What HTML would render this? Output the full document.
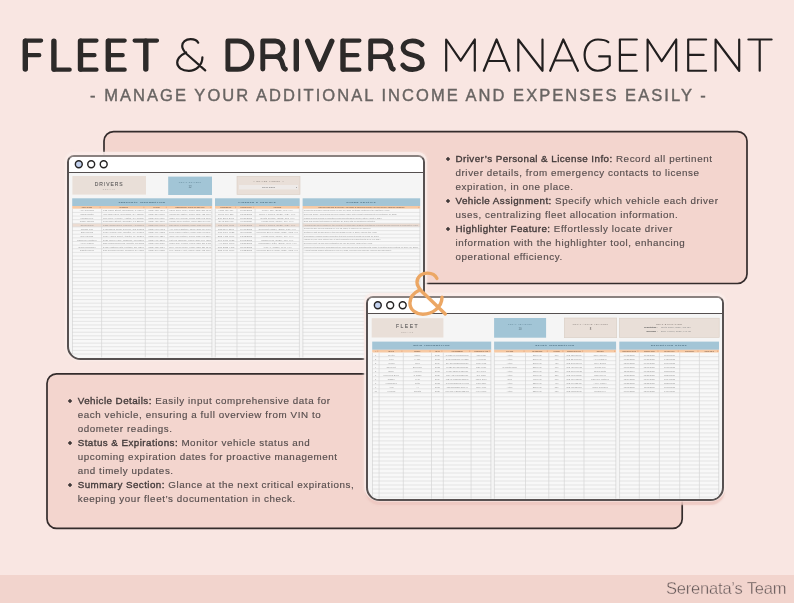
<!DOCTYPE html><html><head><meta charset="utf-8"><title>Fleet &amp; Drivers Management</title><style>
*{margin:0;padding:0;box-sizing:border-box}
html,body{width:794px;height:603px;overflow:hidden}
body{position:relative;background:#f9e6e2;font-family:"Liberation Sans",sans-serif}
div{position:absolute}
#root{left:0;top:0;width:794px;height:603px;will-change:transform}
span{display:block}
.ht{text-align:center;font-size:2.4px;letter-spacing:0.7px;color:#668899;font-weight:bold}
.box{background:#f3d5ce;border:2px solid #2a2424;border-radius:10.5px}
.win{background:#f5f5f5;border:2px solid #575151;border-top-color:#8a8280;border-radius:7px 7px 13.5px 13.5px;overflow:hidden;box-shadow:0 -1.2px 0 1.8px rgba(250,237,233,0.88),0 -1px 2px 2.8px rgba(250,237,233,0.4)}
.tb{position:absolute;left:0;top:0;right:0;height:16px;background:#fff;border-bottom:1.5px solid #555050}
.tb i{position:absolute;top:2.8px;width:8.8px;height:8.8px;border-radius:50%;border:1.6px solid #262424;background:#fff}
.tb .d1{background:#c0d0ee}
.title{position:absolute;top:28px;font-size:46px;line-height:52px;color:#2d2a29;white-space:nowrap}
.blist{position:absolute;font-size:9.8px;line-height:14.1px;color:#574e4e;white-space:nowrap;letter-spacing:0.58px;-webkit-text-stroke:0.15px #574e4e}
.blist b{color:#433b3b;font-weight:normal;-webkit-text-stroke:0.35px #433b3b;letter-spacing:0.45px}
.blist p{position:relative;padding-left:0}
.blist p.bl:before{content:"";position:absolute;left:-10.3px;top:4px;width:6px;height:6px;background:radial-gradient(circle at 50% 50%, #3f3838 0, #3f3838 1.4px, rgba(63,56,56,0) 2.1px)}
</style></head><body><div id="root"><svg role="img" aria-label="FLEET &amp; DRIVERS MANAGEMENT" style="position:absolute;left:0;top:0" width="794" height="90" viewBox="0 0 794 90"><path d="M25.3,41.2 V69.1 M53.9,41.2 V69.1 M80.5,41.2 V69.1 M108.3,41.2 V69.1 M145.8,41.2 V69.1
M296.3,41.2 V69.1 M343,41.2 V69.1
M307.7,41.2 L319.6,69.1 L331.8,41.2" fill="none" stroke="#2d2a29" stroke-width="5.4" stroke-linecap="round" stroke-linejoin="round"/><path d="M41.1,40.6 H25.3 M25.3,55.2 H39.3
M53.9,69.7 H69.7
M96.5,40.6 H80.5 M80.5,69.7 H96.5 M80.5,55.2 H94.5
M124.7,40.6 H108.3 M108.3,69.7 H124.7 M108.3,55.2 H122.7
M134.6,40.6 H157 
M359.4,40.6 H343 M343,69.7 H359.4 M343,55.2 H357.4" fill="none" stroke="#2d2a29" stroke-width="4.2" stroke-linecap="round" stroke-linejoin="round"/><path d="M227.9,41 H237.75 A14.1,14.1 0 0 1 237.75,69.3 H227.9 Z
M262.8,69.1 V41 H275.25 A7.8,7.8 0 0 1 275.25,56.6 H262.8 M276.3,56.6 C280.8,57.4 281.9,61.2 282.6,64.4 C283.2,67.3 284,68.8 285.4,69.2
M370.7,69.1 V41 H383.15 A7.8,7.8 0 0 1 383.15,56.6 H370.7 M384.2,56.6 C388.7,57.4 389.8,61.2 390.5,64.4 C391.1,67.3 391.9,68.8 393.3,69.2
M421.9,44.6 C419.6,41.8 416.2,40.9 412.3,40.9 C406.8,40.9 403.1,43.9 403.1,48.1 C403.1,52.6 407.2,54.1 412.6,55.2 C418.6,56.5 422.3,58.6 422.3,62.9 C422.3,67.1 418.1,69.5 412.4,69.5 C407.6,69.5 404.6,67.6 402.9,65.1" fill="none" stroke="#2d2a29" stroke-width="4.9" stroke-linecap="round" stroke-linejoin="round"/><path d="M446.2,70.75 V39.5 L460.7,60.7 L474.8,39.5 V70.75
M483.8,70.75 L496.6,39.5 L509.5,70.75 M487.8,61 H505.5
M518.3,70.75 V39.5 L542.5,70.75 V39.5
M550.2,70.75 L563.3,39.5 L577.9,70.75 M554.5,60.5 H573.1
M608.3,42.1 C605.5,40 602,39.5 598,39.5 C590,39.5 584.6,46.3 584.6,55.1 C584.6,64 590.5,70.75 597.6,70.75 C602.5,70.75 606.5,69 609.7,65.5 V56.4 H599.2
M636.8,39.5 H619.9 V70.75 H636.8 M619.9,54.9 H635.5
M647.6,70.75 V39.5 L661.7,61.1 L676.2,39.5 V70.75
M706.1,39.5 H688.2 V70.75 H706.1 M688.2,54.9 H703.6
M715.6,70.75 V39.5 L739.2,70.75 V39.5
M748.4,39.5 H771.6 M759.7,39.5 V70.75
M198.2,42.7 C197,40.4 194,39.2 190.6,39.2 C185.6,39.2 182.2,42.1 182.2,46 C182.2,49.2 184.2,51.4 186.6,54 L205.2,70.4
M186.1,52.4 C180.6,55.1 177.2,58.6 177.2,62.6 C177.2,67.6 182.2,70.8 188.8,70.8 C196,70.8 202.4,65.5 202.4,57.3" fill="none" stroke="#221f1f" stroke-width="2.2" stroke-linecap="round" stroke-linejoin="round"/></svg><div style="left:90px;top:84px;width:614px;font-size:16.5px;line-height:22px;color:#686462;font-weight:normal;-webkit-text-stroke:0.4px #686462;letter-spacing:2.05px;white-space:nowrap">- MANAGE YOUR ADDITIONAL INCOME AND EXPENSES EASILY -</div><svg style="position:absolute;left:0;top:0" width="794" height="603"><rect x="104" y="131.6" width="643" height="151.9" rx="9.5" fill="#f3d5ce" stroke="#342c2c" stroke-width="1.7"/></svg><div class="blist" style="left:455.5px;top:151.7px">
<p class="bl"><b>Driver&#8217;s Personal &amp; License Info:</b> Record all pertinent</p>
<p>driver details, from emergency contacts to license</p>
<p>expiration, in one place.</p>
<p class="bl"><b>Vehicle Assignment:</b> Specify which vehicle each driver</p>
<p>uses, centralizing fleet allocation information.</p>
<p class="bl"><b>Highlighter Feature:</b> Effortlessly locate driver</p>
<p>information with the highlighter tool, enhancing</p>
<p>operational efficiency.</p></div><svg style="position:absolute;left:0;top:0" width="794" height="603"><rect x="47" y="373.9" width="635.2" height="154.5" rx="9.5" fill="#f3d5ce" stroke="#342c2c" stroke-width="1.7"/></svg><div class="blist" style="left:77.7px;top:393.7px">
<p class="bl"><b>Vehicle Details:</b> Easily input comprehensive data for</p>
<p>each vehicle, ensuring a full overview from VIN to</p>
<p>odometer readings.</p>
<p class="bl"><b>Status &amp; Expirations:</b> Monitor vehicle status and</p>
<p>upcoming expiration dates for proactive management</p>
<p>and timely updates.</p>
<p class="bl"><b>Summary Section:</b> Glance at the next critical expirations,</p>
<p>keeping your fleet&#8217;s documentation in check.</p></div><div class="win" style="left:67.2px;top:155.0px;width:357.6px;height:204.8px;"><div class="tb"><svg width="60" height="16" style="position:absolute;left:0;top:0"><circle cx="9.8" cy="7.2" r="3.45" fill="#c3d2ef" stroke="#262424" stroke-width="1.45"/><circle cx="22.2" cy="7.2" r="3.45" fill="#fff" stroke="#262424" stroke-width="1.45"/><circle cx="34.7" cy="7.2" r="3.45" fill="#fff" stroke="#262424" stroke-width="1.45"/></svg></div></div><div style="left:0;top:0;width:794px;height:603px;clip-path:inset(174.50px 371.20px 245.20px 69.20px round 0 0 11.5px 11.5px)"><svg width="794" height="603" viewBox="0 0 794 603" font-family="Liberation Sans, sans-serif"><rect x="72.40" y="176.00" width="73.60" height="18.60" fill="#e9dfd8"/><text stroke="#5e5c5c" stroke-width="0.1" x="109.20" y="185.60" font-size="5" fill="#5e5c5c" text-anchor="middle" letter-spacing="0.95">DRIVERS</text><text x="109.20" y="190.30" font-size="2.1" fill="#aaa29d" text-anchor="middle" letter-spacing="0.6">DETAILS</text><rect x="168.20" y="176.60" width="43.80" height="18.40" fill="#a2c5d6"/><text x="190.10" y="183.20" font-size="2.1" fill="#5f8596" text-anchor="middle" letter-spacing="0.5">TOTAL DRIVERS</text><text x="190.10" y="188.40" font-size="2.8" fill="#55707d" text-anchor="middle">12</text><rect x="237.00" y="176.30" width="63.00" height="18.20" fill="#e9dfd8" stroke="#d9cdc4" stroke-width="0.6"/><text x="268.50" y="181.80" font-size="2.1" fill="#7d7570" text-anchor="middle" letter-spacing="0.6">→ DRIVER FINDER ←</text><rect x="239.00" y="185.00" width="59.00" height="4.40" fill="#eeeae8"/><text x="268.50" y="188.10" font-size="2.4" fill="#6a6a6a" text-anchor="middle">Taylor Davis</text><text x="296.50" y="188.10" font-size="2.4" fill="#6a6a6a" text-anchor="middle">▾</text><rect x="72.20" y="198.30" width="140.00" height="7.70" fill="#a3c5d6"/><text stroke="#56788a" stroke-width="0.12" x="142.20" y="202.65" font-size="2.5" fill="#56788a" text-anchor="middle" letter-spacing="0.75" font-weight="bold">PERSONAL INFORMATION</text><rect x="72.20" y="206.00" width="140.00" height="2.80" fill="#f7c9a3"/><text x="86.90" y="208.05" font-size="1.8" fill="#8a6a55" text-anchor="middle" font-weight="bold">FULL NAME</text><rect x="99.60" y="206.70" width="1.10" height="1.40" fill="#e8b08a"/><text x="123.45" y="208.05" font-size="1.8" fill="#8a6a55" text-anchor="middle" font-weight="bold">ADDRESS</text><rect x="143.30" y="206.70" width="1.10" height="1.40" fill="#e8b08a"/><text x="156.55" y="208.05" font-size="1.8" fill="#8a6a55" text-anchor="middle" font-weight="bold">PHONE</text><rect x="165.80" y="206.70" width="1.10" height="1.40" fill="#e8b08a"/><text x="190.00" y="208.05" font-size="1.8" fill="#8a6a55" text-anchor="middle" font-weight="bold">EMERGENCY CONTACT DETAILS</text><rect x="210.20" y="206.70" width="1.10" height="1.40" fill="#e8b08a"/><rect x="72.20" y="208.80" width="140.00" height="148.70" fill="#f8f8f8"/><rect x="72.20" y="223.32" width="140.00" height="3.63" fill="#ecdcd2"/><path d="M72.20,212.43H212.20M72.20,216.06H212.20M72.20,219.69H212.20M72.20,223.32H212.20M72.20,226.95H212.20M72.20,230.58H212.20M72.20,234.21H212.20M72.20,237.84H212.20M72.20,241.47H212.20M72.20,245.10H212.20M72.20,248.73H212.20M72.20,252.36H212.20M72.20,255.99H212.20M72.20,259.62H212.20M72.20,263.25H212.20M72.20,266.88H212.20M72.20,270.51H212.20M72.20,274.14H212.20M72.20,277.77H212.20M72.20,281.40H212.20M72.20,285.03H212.20M72.20,288.66H212.20M72.20,292.29H212.20M72.20,295.92H212.20M72.20,299.55H212.20M72.20,303.18H212.20M72.20,306.81H212.20M72.20,310.44H212.20M72.20,314.07H212.20M72.20,317.70H212.20M72.20,321.33H212.20M72.20,324.96H212.20M72.20,328.59H212.20M72.20,332.22H212.20M72.20,335.85H212.20M72.20,339.48H212.20M72.20,343.11H212.20M72.20,346.74H212.20M72.20,350.37H212.20M72.20,354.00H212.20" stroke="#dedede" stroke-width="0.75" fill="none"/><path d="M101.60,208.80V357.50M145.30,208.80V357.50M167.80,208.80V357.50" stroke="#d6d6d6" stroke-width="0.7" fill="none"/><path d="M72.50,208.80V357.50M211.90,208.80V357.50" stroke="#cfcfcf" stroke-width="0.6" fill="none"/><text x="86.90" y="211.48" font-size="2.4" fill="#9a9a9a" text-anchor="middle">Alex Johnson</text><text x="123.45" y="211.48" font-size="2.4" fill="#9a9a9a" text-anchor="middle" textLength="40.70" lengthAdjust="spacingAndGlyphs">123 Maple Street, Springfield, IL 62704</text><text x="156.55" y="211.48" font-size="2.4" fill="#9a9a9a" text-anchor="middle">(555) 123-4567</text><text x="190.00" y="211.48" font-size="2.4" fill="#9a9a9a" text-anchor="middle" textLength="41.40" lengthAdjust="spacingAndGlyphs">Jamie Chen (Wife), Phone (555) 321-6543</text><text x="86.90" y="215.11" font-size="2.4" fill="#9a9a9a" text-anchor="middle">Jamal Smith</text><text x="123.45" y="215.11" font-size="2.4" fill="#9a9a9a" text-anchor="middle" textLength="40.70" lengthAdjust="spacingAndGlyphs">456 Oak Lane, Riverside, CA 92501</text><text x="156.55" y="215.11" font-size="2.4" fill="#9a9a9a" text-anchor="middle">(555) 234-5678</text><text x="190.00" y="215.11" font-size="2.4" fill="#9a9a9a" text-anchor="middle" textLength="41.40" lengthAdjust="spacingAndGlyphs">Jordan Sin (Sister), Phone (555) 432-7654</text><text x="86.90" y="218.74" font-size="2.4" fill="#9a9a9a" text-anchor="middle">Morgan Lee</text><text x="123.45" y="218.74" font-size="2.4" fill="#9a9a9a" text-anchor="middle" textLength="40.70" lengthAdjust="spacingAndGlyphs">789 Pine Avenue, Austin, TX 78701</text><text x="156.55" y="218.74" font-size="2.4" fill="#9a9a9a" text-anchor="middle">(555) 345-6789</text><text x="190.00" y="218.74" font-size="2.4" fill="#9a9a9a" text-anchor="middle" textLength="41.40" lengthAdjust="spacingAndGlyphs">Casey Lee (Friend), Phone (555) 543-8765</text><text x="86.90" y="222.37" font-size="2.4" fill="#9a9a9a" text-anchor="middle">Casey Brown</text><text x="123.45" y="222.37" font-size="2.4" fill="#9a9a9a" text-anchor="middle" textLength="40.70" lengthAdjust="spacingAndGlyphs">1011 Elm Street, Orlando, FL 32801</text><text x="156.55" y="222.37" font-size="2.4" fill="#9a9a9a" text-anchor="middle">(555) 456-7890</text><text x="190.00" y="222.37" font-size="2.4" fill="#9a9a9a" text-anchor="middle" textLength="41.40" lengthAdjust="spacingAndGlyphs">Morgan Green (Partner), Phone (555) 654-9876</text><text x="86.90" y="226.00" font-size="2.4" fill="#9a9a9a" text-anchor="middle">Taylor Davis</text><text x="123.45" y="226.00" font-size="2.4" fill="#9a9a9a" text-anchor="middle" textLength="40.70" lengthAdjust="spacingAndGlyphs">1213 Cedar Drive, Phoenix, AZ 85001</text><text x="156.55" y="226.00" font-size="2.4" fill="#9a9a9a" text-anchor="middle">(555) 567-8901</text><text x="190.00" y="226.00" font-size="2.4" fill="#9a9a9a" text-anchor="middle" textLength="41.40" lengthAdjust="spacingAndGlyphs">Sam Taylor (Husband), Phone (555) 765-0987</text><text x="86.90" y="229.63" font-size="2.4" fill="#9a9a9a" text-anchor="middle">Jordan Kim</text><text x="123.45" y="229.63" font-size="2.4" fill="#9a9a9a" text-anchor="middle" textLength="40.70" lengthAdjust="spacingAndGlyphs">1415 Birch Road, Denver, CO 80202</text><text x="156.55" y="229.63" font-size="2.4" fill="#9a9a9a" text-anchor="middle">(555) 678-9012</text><text x="190.00" y="229.63" font-size="2.4" fill="#9a9a9a" text-anchor="middle" textLength="41.40" lengthAdjust="spacingAndGlyphs">Alex Lopez (Brother), Phone (555) 876-1098</text><text x="86.90" y="233.26" font-size="2.4" fill="#9a9a9a" text-anchor="middle">Sam Rivera</text><text x="123.45" y="233.26" font-size="2.4" fill="#9a9a9a" text-anchor="middle" textLength="40.70" lengthAdjust="spacingAndGlyphs">1617 Willow Way, Seattle, WA 98101</text><text x="156.55" y="233.26" font-size="2.4" fill="#9a9a9a" text-anchor="middle">(555) 789-0123</text><text x="190.00" y="233.26" font-size="2.4" fill="#9a9a9a" text-anchor="middle" textLength="41.40" lengthAdjust="spacingAndGlyphs">Drew Wagner (Father), Phone (555) 987-2109</text><text x="86.90" y="236.89" font-size="2.4" fill="#9a9a9a" text-anchor="middle">Riley Evans</text><text x="123.45" y="236.89" font-size="2.4" fill="#9a9a9a" text-anchor="middle" textLength="40.70" lengthAdjust="spacingAndGlyphs">1819 Aspen Court, Atlanta, GA 30301</text><text x="156.55" y="236.89" font-size="2.4" fill="#9a9a9a" text-anchor="middle">(555) 890-1234</text><text x="190.00" y="236.89" font-size="2.4" fill="#9a9a9a" text-anchor="middle" textLength="41.40" lengthAdjust="spacingAndGlyphs">Chris Hall (Mother), Phone (555) 098-3210</text><text x="86.90" y="240.52" font-size="2.4" fill="#9a9a9a" text-anchor="middle">Cameron Martinez</text><text x="123.45" y="240.52" font-size="2.4" fill="#9a9a9a" text-anchor="middle" textLength="40.70" lengthAdjust="spacingAndGlyphs">2021 Cherry Lane, Nashville, TN 37201</text><text x="156.55" y="240.52" font-size="2.4" fill="#9a9a9a" text-anchor="middle">(555) 901-2345</text><text x="190.00" y="240.52" font-size="2.4" fill="#9a9a9a" text-anchor="middle" textLength="41.40" lengthAdjust="spacingAndGlyphs">Pat Kim (Spouse), Phone (555) 109-4321</text><text x="86.90" y="244.15" font-size="2.4" fill="#9a9a9a" text-anchor="middle">Avery Walker</text><text x="123.45" y="244.15" font-size="2.4" fill="#9a9a9a" text-anchor="middle" textLength="40.70" lengthAdjust="spacingAndGlyphs">2223 Magnolia Boulevard, Charlotte, NC 28202</text><text x="156.55" y="244.15" font-size="2.4" fill="#9a9a9a" text-anchor="middle">(555) 012-3456</text><text x="190.00" y="244.15" font-size="2.4" fill="#9a9a9a" text-anchor="middle" textLength="41.40" lengthAdjust="spacingAndGlyphs">Robin Gray (Friend), Phone (555) 210-5432</text><text x="86.90" y="247.78" font-size="2.4" fill="#9a9a9a" text-anchor="middle">Quinn Robinson</text><text x="123.45" y="247.78" font-size="2.4" fill="#9a9a9a" text-anchor="middle" textLength="40.70" lengthAdjust="spacingAndGlyphs">2425 Hawthorn Path, Portland, OR 97201</text><text x="156.55" y="247.78" font-size="2.4" fill="#9a9a9a" text-anchor="middle">(555) 135-7924</text><text x="190.00" y="247.78" font-size="2.4" fill="#9a9a9a" text-anchor="middle" textLength="41.40" lengthAdjust="spacingAndGlyphs">Terry Young (Uncle), Phone (555) 321-6543</text><text x="86.90" y="251.41" font-size="2.4" fill="#9a9a9a" text-anchor="middle">Dakota Reed</text><text x="123.45" y="251.41" font-size="2.4" fill="#9a9a9a" text-anchor="middle" textLength="40.70" lengthAdjust="spacingAndGlyphs">2627 Sycamore Terrace, Columbus, OH 43215</text><text x="156.55" y="251.41" font-size="2.4" fill="#9a9a9a" text-anchor="middle">(555) 246-8135</text><text x="190.00" y="251.41" font-size="2.4" fill="#9a9a9a" text-anchor="middle" textLength="41.40" lengthAdjust="spacingAndGlyphs">Lee Adams (Aunt), Phone (555) 432-7654</text><rect x="215.00" y="198.30" width="84.70" height="7.70" fill="#a3c5d6"/><text stroke="#56788a" stroke-width="0.12" x="257.35" y="202.65" font-size="2.5" fill="#56788a" text-anchor="middle" letter-spacing="0.75" font-weight="bold">LICENSE &amp; VEHICLE</text><rect x="215.00" y="206.00" width="84.70" height="2.80" fill="#f7c9a3"/><text x="226.00" y="208.05" font-size="1.8" fill="#8a6a55" text-anchor="middle" font-weight="bold">LICENSE NO.</text><rect x="235.00" y="206.70" width="1.10" height="1.40" fill="#e8b08a"/><text x="246.05" y="208.05" font-size="1.8" fill="#8a6a55" text-anchor="middle" font-weight="bold">EXPIRATION</text><rect x="253.10" y="206.70" width="1.10" height="1.40" fill="#e8b08a"/><text x="277.40" y="208.05" font-size="1.8" fill="#8a6a55" text-anchor="middle" font-weight="bold">VEHICLE</text><rect x="297.70" y="206.70" width="1.10" height="1.40" fill="#e8b08a"/><rect x="215.00" y="208.80" width="84.70" height="148.70" fill="#f8f8f8"/><rect x="215.00" y="223.32" width="84.70" height="3.63" fill="#ecdcd2"/><path d="M215.00,212.43H299.70M215.00,216.06H299.70M215.00,219.69H299.70M215.00,223.32H299.70M215.00,226.95H299.70M215.00,230.58H299.70M215.00,234.21H299.70M215.00,237.84H299.70M215.00,241.47H299.70M215.00,245.10H299.70M215.00,248.73H299.70M215.00,252.36H299.70M215.00,255.99H299.70M215.00,259.62H299.70M215.00,263.25H299.70M215.00,266.88H299.70M215.00,270.51H299.70M215.00,274.14H299.70M215.00,277.77H299.70M215.00,281.40H299.70M215.00,285.03H299.70M215.00,288.66H299.70M215.00,292.29H299.70M215.00,295.92H299.70M215.00,299.55H299.70M215.00,303.18H299.70M215.00,306.81H299.70M215.00,310.44H299.70M215.00,314.07H299.70M215.00,317.70H299.70M215.00,321.33H299.70M215.00,324.96H299.70M215.00,328.59H299.70M215.00,332.22H299.70M215.00,335.85H299.70M215.00,339.48H299.70M215.00,343.11H299.70M215.00,346.74H299.70M215.00,350.37H299.70M215.00,354.00H299.70" stroke="#dedede" stroke-width="0.75" fill="none"/><path d="M237.00,208.80V357.50M255.10,208.80V357.50" stroke="#d6d6d6" stroke-width="0.7" fill="none"/><path d="M215.30,208.80V357.50M299.40,208.80V357.50" stroke="#cfcfcf" stroke-width="0.6" fill="none"/><text x="226.00" y="211.48" font-size="2.4" fill="#9a9a9a" text-anchor="middle">L123-456-789</text><text x="246.05" y="211.48" font-size="2.4" fill="#9a9a9a" text-anchor="middle">06/30/2025</text><text x="277.40" y="211.48" font-size="2.4" fill="#9a9a9a" text-anchor="middle">Ford F-150, (2020), 1FT-XXX</text><text x="226.00" y="215.11" font-size="2.4" fill="#9a9a9a" text-anchor="middle">D987-654-321</text><text x="246.05" y="215.11" font-size="2.4" fill="#9a9a9a" text-anchor="middle">03/15/2025</text><text x="277.40" y="215.11" font-size="2.4" fill="#9a9a9a" text-anchor="middle">BMW X Series, (2021), WBA-XXX</text><text x="226.00" y="218.74" font-size="2.4" fill="#9a9a9a" text-anchor="middle">S11-2667-3847</text><text x="246.05" y="218.74" font-size="2.4" fill="#9a9a9a" text-anchor="middle">08/20/2025</text><text x="277.40" y="218.74" font-size="2.4" fill="#9a9a9a" text-anchor="middle">Toyota Corolla, (2022), 2T1-XXX</text><text x="226.00" y="222.37" font-size="2.4" fill="#9a9a9a" text-anchor="middle">B445-556-667</text><text x="246.05" y="222.37" font-size="2.4" fill="#9a9a9a" text-anchor="middle">04/11/2025</text><text x="277.40" y="222.37" font-size="2.4" fill="#9a9a9a" text-anchor="middle">Honda Civic, (2019), 19X-XXX</text><text x="226.00" y="226.00" font-size="2.4" fill="#9a9a9a" text-anchor="middle">T88-9950-0011</text><text x="246.05" y="226.00" font-size="2.4" fill="#9a9a9a" text-anchor="middle">07/29/2025</text><text x="277.40" y="226.00" font-size="2.4" fill="#9a9a9a" text-anchor="middle">BMW X Series, (2021), WBA-XXX</text><text x="226.00" y="229.63" font-size="2.4" fill="#9a9a9a" text-anchor="middle">J22-3344-5566</text><text x="246.05" y="229.63" font-size="2.4" fill="#9a9a9a" text-anchor="middle">09/10/2025</text><text x="277.40" y="229.63" font-size="2.4" fill="#9a9a9a" text-anchor="middle">Chevrolet Malibu, (2020), 1G1-XXX</text><text x="226.00" y="233.26" font-size="2.4" fill="#9a9a9a" text-anchor="middle">R77-8899-0022</text><text x="246.05" y="233.26" font-size="2.4" fill="#9a9a9a" text-anchor="middle">11/01/2025</text><text x="277.40" y="233.26" font-size="2.4" fill="#9a9a9a" text-anchor="middle" textLength="41.60" lengthAdjust="spacingAndGlyphs">Mercedes-Benz C-Class, (2021), WDD-XXX</text><text x="226.00" y="236.89" font-size="2.4" fill="#9a9a9a" text-anchor="middle">E33-4455-6677</text><text x="246.05" y="236.89" font-size="2.4" fill="#9a9a9a" text-anchor="middle">12/12/2025</text><text x="277.40" y="236.89" font-size="2.4" fill="#9a9a9a" text-anchor="middle">Honda Civic, (2019), 19X-XXX</text><text x="226.00" y="240.52" font-size="2.4" fill="#9a9a9a" text-anchor="middle">C99-8877-6655</text><text x="246.05" y="240.52" font-size="2.4" fill="#9a9a9a" text-anchor="middle">10/05/2025</text><text x="277.40" y="240.52" font-size="2.4" fill="#9a9a9a" text-anchor="middle">Nissan Leaf, (2020), 1N4-XXX</text><text x="226.00" y="244.15" font-size="2.4" fill="#9a9a9a" text-anchor="middle">A44-5566-7788</text><text x="246.05" y="244.15" font-size="2.4" fill="#9a9a9a" text-anchor="middle">02/28/2025</text><text x="277.40" y="244.15" font-size="2.4" fill="#9a9a9a" text-anchor="middle">Volkswagen Jetta, (2021), 3VW-XXX</text><text x="226.00" y="247.78" font-size="2.4" fill="#9a9a9a" text-anchor="middle">Q11-2233-4455</text><text x="246.05" y="247.78" font-size="2.4" fill="#9a9a9a" text-anchor="middle">05/18/2025</text><text x="277.40" y="247.78" font-size="2.4" fill="#9a9a9a" text-anchor="middle">Audi A4, (2022), WAU-XXX</text><text x="226.00" y="251.41" font-size="2.4" fill="#9a9a9a" text-anchor="middle">D55-6677-8899</text><text x="246.05" y="251.41" font-size="2.4" fill="#9a9a9a" text-anchor="middle">01/22/2025</text><text x="277.40" y="251.41" font-size="2.4" fill="#9a9a9a" text-anchor="middle" textLength="41.60" lengthAdjust="spacingAndGlyphs">Mercedes-Benz C-Class, (2021), WDD-XXX</text><rect x="302.60" y="198.30" width="117.60" height="7.70" fill="#a3c5d6"/><text stroke="#56788a" stroke-width="0.12" x="361.40" y="202.65" font-size="2.5" fill="#56788a" text-anchor="middle" letter-spacing="0.75" font-weight="bold">OTHER DETAILS</text><rect x="302.60" y="206.00" width="117.60" height="2.80" fill="#f7c9a3"/><text x="361.40" y="208.05" font-size="1.8" fill="#8a6a55" text-anchor="middle" font-weight="bold">DRIVING RECORD &amp; HISTORY  |  TRAINING &amp; CERTIFICATIONS  |  HEALTH INFOS  |  TESTING RESULTS</text><rect x="418.20" y="206.70" width="1.10" height="1.40" fill="#e8b08a"/><rect x="302.60" y="208.80" width="117.60" height="148.70" fill="#f8f8f8"/><rect x="302.60" y="223.32" width="117.60" height="3.63" fill="#ecdcd2"/><path d="M302.60,212.43H420.20M302.60,216.06H420.20M302.60,219.69H420.20M302.60,223.32H420.20M302.60,226.95H420.20M302.60,230.58H420.20M302.60,234.21H420.20M302.60,237.84H420.20M302.60,241.47H420.20M302.60,245.10H420.20M302.60,248.73H420.20M302.60,252.36H420.20M302.60,255.99H420.20M302.60,259.62H420.20M302.60,263.25H420.20M302.60,266.88H420.20M302.60,270.51H420.20M302.60,274.14H420.20M302.60,277.77H420.20M302.60,281.40H420.20M302.60,285.03H420.20M302.60,288.66H420.20M302.60,292.29H420.20M302.60,295.92H420.20M302.60,299.55H420.20M302.60,303.18H420.20M302.60,306.81H420.20M302.60,310.44H420.20M302.60,314.07H420.20M302.60,317.70H420.20M302.60,321.33H420.20M302.60,324.96H420.20M302.60,328.59H420.20M302.60,332.22H420.20M302.60,335.85H420.20M302.60,339.48H420.20M302.60,343.11H420.20M302.60,346.74H420.20M302.60,350.37H420.20M302.60,354.00H420.20" stroke="#dedede" stroke-width="0.75" fill="none"/><path d="" stroke="#d6d6d6" stroke-width="0.7" fill="none"/><path d="M302.90,208.80V357.50M419.90,208.80V357.50" stroke="#cfcfcf" stroke-width="0.6" fill="none"/><text x="303.80" y="211.34" font-size="2.0" fill="#9a9a9a" text-anchor="start">Completed defensive driving course on July 15, 2023. No traffic violations in the past three years.</text><text x="303.80" y="214.97" font-size="2.0" fill="#9a9a9a" text-anchor="start">Received Class A Commercial Driver's License (CDL) with HazMat endorsement on September 10, 2022.</text><text x="303.80" y="218.59" font-size="2.0" fill="#9a9a9a" text-anchor="start">Passed annual medical examination confirming fitness for driving, dated August 3, 2023.</text><text x="303.80" y="222.22" font-size="2.0" fill="#9a9a9a" text-anchor="start">Drug and alcohol test passed on October 20, 2023, with no substances detected.</text><text x="303.80" y="225.86" font-size="2.0" fill="#9a9a9a" text-anchor="start" textLength="114.60" lengthAdjust="spacingAndGlyphs">Awarded Safe Driver badge by the company in December 2022 for maintaining a perfect driving record for 5 consecutive years.</text><text x="303.80" y="229.49" font-size="2.0" fill="#9a9a9a" text-anchor="start">Completed Eco-Driving Training on April 12, 2023, to improve fuel efficiency.</text><text x="303.80" y="233.12" font-size="2.0" fill="#9a9a9a" text-anchor="start">Certified in first aid and CPR by the Red Cross on May 5, 2023, valid for two years.</text><text x="303.80" y="236.75" font-size="2.0" fill="#9a9a9a" text-anchor="start">Successfully passed hazard perception test with excellent results on March 18, 2023.</text><text x="303.80" y="240.38" font-size="2.0" fill="#9a9a9a" text-anchor="start">Logged 10,000 miles without any at-fault accidents or speeding tickets as of April 2024.</text><text x="303.80" y="244.01" font-size="2.0" fill="#9a9a9a" text-anchor="start">Renewed First Aid and CPR certification on May 22, 2023, valid for two years.</text><text x="303.80" y="247.64" font-size="2.0" fill="#9a9a9a" text-anchor="start" textLength="114.60" lengthAdjust="spacingAndGlyphs">Underwent ergonomic assessment for long-haul driving; adjustments made to seating and controls on June 30, 2023.</text><text x="303.80" y="251.27" font-size="2.0" fill="#9a9a9a" text-anchor="start">Annual training session attended on July 10, 2023, covering new company policies and road safety.</text></svg></div><div class="win" style="left:366.4px;top:296.3px;width:357.6px;height:204.8px;box-shadow:0 -1.2px 0 1.8px rgba(250,237,233,0.88),0 3px 1.5px 1px rgba(236,198,190,0.85),0 -1px 2px 2.8px rgba(250,237,233,0.4)"><div class="tb"><svg width="60" height="16" style="position:absolute;left:0;top:0"><circle cx="9.8" cy="7.2" r="3.45" fill="#c3d2ef" stroke="#262424" stroke-width="1.45"/><circle cx="22.2" cy="7.2" r="3.45" fill="#fff" stroke="#262424" stroke-width="1.45"/><circle cx="34.7" cy="7.2" r="3.45" fill="#fff" stroke="#262424" stroke-width="1.45"/></svg></div></div><div style="left:0;top:0;width:794px;height:603px;clip-path:inset(315.80px 72.00px 103.90px 368.40px round 0 0 11.5px 11.5px)"><svg width="794" height="603" viewBox="0 0 794 603" font-family="Liberation Sans, sans-serif"><rect x="371.70" y="318.20" width="71.70" height="19.30" fill="#e9dfd8"/><text stroke="#5e5c5c" stroke-width="0.1" x="407.50" y="328.10" font-size="5" fill="#5e5c5c" text-anchor="middle" letter-spacing="1.5">FLEET</text><text x="407.50" y="332.80" font-size="2.1" fill="#aaa29d" text-anchor="middle" letter-spacing="0.6">DETAILS</text><rect x="494.10" y="318.00" width="52.00" height="19.70" fill="#a2c5d6"/><text x="520.10" y="324.60" font-size="2.1" fill="#5f8596" text-anchor="middle" letter-spacing="0.5">TOTAL VEHICLES</text><text x="520.10" y="330.30" font-size="2.8" fill="#55707d" text-anchor="middle">10</text><rect x="564.30" y="318.00" width="52.40" height="19.70" fill="#e9dfd8" stroke="#d9cdc4" stroke-width="0.6"/><text x="590.50" y="324.60" font-size="2.1" fill="#7d7570" text-anchor="middle" letter-spacing="0.5">TOTAL ACTIVE VEHICLES</text><text x="590.50" y="330.30" font-size="2.8" fill="#55504d" text-anchor="middle">8</text><rect x="619.30" y="318.20" width="99.90" height="19.30" fill="#e9dfd8" stroke="#d9cdc4" stroke-width="0.6"/><text x="669.20" y="324.60" font-size="2.1" fill="#6d6560" text-anchor="middle" letter-spacing="0.5">NEXT EXPIRATION</text><text x="657.50" y="328.40" font-size="2.1" fill="#555" text-anchor="end" font-weight="bold">Registration :</text><text x="661.00" y="328.40" font-size="2.1" fill="#8a8a8a" text-anchor="start">Toyota Camry, (2020), ABC-123</text><text x="657.50" y="332.30" font-size="2.1" fill="#555" text-anchor="end" font-weight="bold">Insurance :</text><text x="661.00" y="332.30" font-size="2.1" fill="#8a8a8a" text-anchor="start">BMW X Series, (2021), XYZ-456</text><rect x="372.20" y="341.60" width="119.00" height="8.20" fill="#a3c5d6"/><text stroke="#56788a" stroke-width="0.12" x="431.70" y="346.20" font-size="2.5" fill="#56788a" text-anchor="middle" letter-spacing="0.75" font-weight="bold">MAIN INFORMATION</text><rect x="372.20" y="349.80" width="119.00" height="2.90" fill="#f7c9a3"/><text x="375.65" y="351.90" font-size="1.8" fill="#8a6a55" text-anchor="middle" font-weight="bold">#</text><rect x="377.10" y="350.50" width="1.10" height="1.50" fill="#e8b08a"/><text x="391.20" y="351.90" font-size="1.8" fill="#8a6a55" text-anchor="middle" font-weight="bold">MAKE</text><rect x="401.30" y="350.50" width="1.10" height="1.50" fill="#e8b08a"/><text x="417.40" y="351.90" font-size="1.8" fill="#8a6a55" text-anchor="middle" font-weight="bold">MODEL</text><rect x="429.50" y="350.50" width="1.10" height="1.50" fill="#e8b08a"/><text x="437.40" y="351.90" font-size="1.8" fill="#8a6a55" text-anchor="middle" font-weight="bold">YEAR</text><rect x="441.30" y="350.50" width="1.10" height="1.50" fill="#e8b08a"/><text x="457.20" y="351.90" font-size="1.8" fill="#8a6a55" text-anchor="middle" font-weight="bold">VIN NUMBER</text><rect x="469.10" y="350.50" width="1.10" height="1.50" fill="#e8b08a"/><text x="481.15" y="351.90" font-size="1.8" fill="#8a6a55" text-anchor="middle" font-weight="bold">LICENSE PLATE</text><rect x="489.20" y="350.50" width="1.10" height="1.50" fill="#e8b08a"/><rect x="372.20" y="352.70" width="119.00" height="145.90" fill="#f8f8f8"/><path d="M372.20,356.71H491.20M372.20,360.72H491.20M372.20,364.73H491.20M372.20,368.74H491.20M372.20,372.75H491.20M372.20,376.76H491.20M372.20,380.77H491.20M372.20,384.78H491.20M372.20,388.79H491.20M372.20,392.80H491.20M372.20,396.81H491.20M372.20,400.82H491.20M372.20,404.83H491.20M372.20,408.84H491.20M372.20,412.85H491.20M372.20,416.86H491.20M372.20,420.87H491.20M372.20,424.88H491.20M372.20,428.89H491.20M372.20,432.90H491.20M372.20,436.91H491.20M372.20,440.92H491.20M372.20,444.93H491.20M372.20,448.94H491.20M372.20,452.95H491.20M372.20,456.96H491.20M372.20,460.97H491.20M372.20,464.98H491.20M372.20,468.99H491.20M372.20,473.00H491.20M372.20,477.01H491.20M372.20,481.02H491.20M372.20,485.03H491.20M372.20,489.04H491.20M372.20,493.05H491.20M372.20,497.06H491.20" stroke="#dedede" stroke-width="0.75" fill="none"/><path d="M379.10,352.70V498.60M403.30,352.70V498.60M431.50,352.70V498.60M443.30,352.70V498.60M471.10,352.70V498.60" stroke="#d6d6d6" stroke-width="0.7" fill="none"/><path d="M372.50,352.70V498.60M490.90,352.70V498.60" stroke="#cfcfcf" stroke-width="0.6" fill="none"/><text x="375.65" y="355.50" font-size="2.2" fill="#9a9a9a" text-anchor="middle">1</text><text x="391.20" y="355.50" font-size="2.2" fill="#9a9a9a" text-anchor="middle">Toyota</text><text x="417.40" y="355.50" font-size="2.2" fill="#9a9a9a" text-anchor="middle">Camry</text><text x="437.40" y="355.50" font-size="2.2" fill="#9a9a9a" text-anchor="middle">2020</text><text x="457.20" y="355.50" font-size="2.2" fill="#9a9a9a" text-anchor="middle">1HGBH41JXMN109186</text><text x="481.15" y="355.50" font-size="2.2" fill="#9a9a9a" text-anchor="middle">ABC-1234</text><text x="375.65" y="359.51" font-size="2.2" fill="#9a9a9a" text-anchor="middle">2</text><text x="391.20" y="359.51" font-size="2.2" fill="#9a9a9a" text-anchor="middle">Ford</text><text x="417.40" y="359.51" font-size="2.2" fill="#9a9a9a" text-anchor="middle">F-150</text><text x="437.40" y="359.51" font-size="2.2" fill="#9a9a9a" text-anchor="middle">2021</text><text x="457.20" y="359.51" font-size="2.2" fill="#9a9a9a" text-anchor="middle">2HGCM82633A004352</text><text x="481.15" y="359.51" font-size="2.2" fill="#9a9a9a" text-anchor="middle">XYZ-5678</text><text x="375.65" y="363.52" font-size="2.2" fill="#9a9a9a" text-anchor="middle">3</text><text x="391.20" y="363.52" font-size="2.2" fill="#9a9a9a" text-anchor="middle">Honda</text><text x="417.40" y="363.52" font-size="2.2" fill="#9a9a9a" text-anchor="middle">Civic</text><text x="437.40" y="363.52" font-size="2.2" fill="#9a9a9a" text-anchor="middle">2019</text><text x="457.20" y="363.52" font-size="2.2" fill="#9a9a9a" text-anchor="middle">3FADP4EJ2FM123456</text><text x="481.15" y="363.52" font-size="2.2" fill="#9a9a9a" text-anchor="middle">LMN-9012</text><text x="375.65" y="367.53" font-size="2.2" fill="#9a9a9a" text-anchor="middle">4</text><text x="391.20" y="367.53" font-size="2.2" fill="#9a9a9a" text-anchor="middle">Chevrolet</text><text x="417.40" y="367.53" font-size="2.2" fill="#9a9a9a" text-anchor="middle">Silverado</text><text x="437.40" y="367.53" font-size="2.2" fill="#9a9a9a" text-anchor="middle">2022</text><text x="457.20" y="367.53" font-size="2.2" fill="#9a9a9a" text-anchor="middle">4T1BF1FK5CU123456</text><text x="481.15" y="367.53" font-size="2.2" fill="#9a9a9a" text-anchor="middle">DEF-3456</text><text x="375.65" y="371.54" font-size="2.2" fill="#9a9a9a" text-anchor="middle">5</text><text x="391.20" y="371.54" font-size="2.2" fill="#9a9a9a" text-anchor="middle">BMW</text><text x="417.40" y="371.54" font-size="2.2" fill="#9a9a9a" text-anchor="middle">X Series</text><text x="437.40" y="371.54" font-size="2.2" fill="#9a9a9a" text-anchor="middle">2021</text><text x="457.20" y="371.54" font-size="2.2" fill="#9a9a9a" text-anchor="middle">5YJSA1E26HF123456</text><text x="481.15" y="371.54" font-size="2.2" fill="#9a9a9a" text-anchor="middle">GHI-7890</text><text x="375.65" y="375.55" font-size="2.2" fill="#9a9a9a" text-anchor="middle">6</text><text x="391.20" y="375.55" font-size="2.2" fill="#9a9a9a" text-anchor="middle">Mercedes-Benz</text><text x="417.40" y="375.55" font-size="2.2" fill="#9a9a9a" text-anchor="middle">C-Class</text><text x="437.40" y="375.55" font-size="2.2" fill="#9a9a9a" text-anchor="middle">2020</text><text x="457.20" y="375.55" font-size="2.2" fill="#9a9a9a" text-anchor="middle">1N4AL3AP8JC123456</text><text x="481.15" y="375.55" font-size="2.2" fill="#9a9a9a" text-anchor="middle">JKL-1357</text><text x="375.65" y="379.56" font-size="2.2" fill="#9a9a9a" text-anchor="middle">7</text><text x="391.20" y="379.56" font-size="2.2" fill="#9a9a9a" text-anchor="middle">Nissan</text><text x="417.40" y="379.56" font-size="2.2" fill="#9a9a9a" text-anchor="middle">Leaf</text><text x="437.40" y="379.56" font-size="2.2" fill="#9a9a9a" text-anchor="middle">2019</text><text x="457.20" y="379.56" font-size="2.2" fill="#9a9a9a" text-anchor="middle">WBA3A5C55CF256789</text><text x="481.15" y="379.56" font-size="2.2" fill="#9a9a9a" text-anchor="middle">MNO-2468</text><text x="375.65" y="383.57" font-size="2.2" fill="#9a9a9a" text-anchor="middle">8</text><text x="391.20" y="383.57" font-size="2.2" fill="#9a9a9a" text-anchor="middle">Volkswagen</text><text x="417.40" y="383.57" font-size="2.2" fill="#9a9a9a" text-anchor="middle">Jetta</text><text x="437.40" y="383.57" font-size="2.2" fill="#9a9a9a" text-anchor="middle">2022</text><text x="457.20" y="383.57" font-size="2.2" fill="#9a9a9a" text-anchor="middle">JHMCM56557C404453</text><text x="481.15" y="383.57" font-size="2.2" fill="#9a9a9a" text-anchor="middle">PQR-3579</text><text x="375.65" y="387.58" font-size="2.2" fill="#9a9a9a" text-anchor="middle">9</text><text x="391.20" y="387.58" font-size="2.2" fill="#9a9a9a" text-anchor="middle">Audi</text><text x="417.40" y="387.58" font-size="2.2" fill="#9a9a9a" text-anchor="middle">A4</text><text x="437.40" y="387.58" font-size="2.2" fill="#9a9a9a" text-anchor="middle">2021</text><text x="457.20" y="387.58" font-size="2.2" fill="#9a9a9a" text-anchor="middle">1G1ZT53826F109149</text><text x="481.15" y="387.58" font-size="2.2" fill="#9a9a9a" text-anchor="middle">STU-4680</text><text x="375.65" y="391.59" font-size="2.2" fill="#9a9a9a" text-anchor="middle">10</text><text x="391.20" y="391.59" font-size="2.2" fill="#9a9a9a" text-anchor="middle">Hyundai</text><text x="417.40" y="391.59" font-size="2.2" fill="#9a9a9a" text-anchor="middle">Sonata</text><text x="437.40" y="391.59" font-size="2.2" fill="#9a9a9a" text-anchor="middle">2020</text><text x="457.20" y="391.59" font-size="2.2" fill="#9a9a9a" text-anchor="middle">KMHCT4AE5CU123456</text><text x="481.15" y="391.59" font-size="2.2" fill="#9a9a9a" text-anchor="middle">VWX-5791</text><rect x="494.10" y="341.60" width="122.00" height="8.20" fill="#a3c5d6"/><text stroke="#56788a" stroke-width="0.12" x="555.10" y="346.20" font-size="2.5" fill="#56788a" text-anchor="middle" letter-spacing="0.75" font-weight="bold">EXTRA INFORMATION</text><rect x="494.10" y="349.80" width="122.00" height="2.90" fill="#f7c9a3"/><text x="509.80" y="351.90" font-size="1.8" fill="#8a6a55" text-anchor="middle" font-weight="bold">STATUS</text><rect x="523.50" y="350.50" width="1.10" height="1.50" fill="#e8b08a"/><text x="537.15" y="351.90" font-size="1.8" fill="#8a6a55" text-anchor="middle" font-weight="bold">ODOMETER</text><rect x="546.80" y="350.50" width="1.10" height="1.50" fill="#e8b08a"/><text x="556.55" y="351.90" font-size="1.8" fill="#8a6a55" text-anchor="middle" font-weight="bold">HOURS</text><rect x="562.30" y="350.50" width="1.10" height="1.50" fill="#e8b08a"/><text x="574.15" y="351.90" font-size="1.8" fill="#8a6a55" text-anchor="middle" font-weight="bold">INSURANCE NO.</text><rect x="582.00" y="350.50" width="1.10" height="1.50" fill="#e8b08a"/><text x="600.05" y="351.90" font-size="1.8" fill="#8a6a55" text-anchor="middle" font-weight="bold">DRIVER</text><rect x="614.10" y="350.50" width="1.10" height="1.50" fill="#e8b08a"/><rect x="494.10" y="352.70" width="122.00" height="145.90" fill="#f8f8f8"/><path d="M494.10,356.71H616.10M494.10,360.72H616.10M494.10,364.73H616.10M494.10,368.74H616.10M494.10,372.75H616.10M494.10,376.76H616.10M494.10,380.77H616.10M494.10,384.78H616.10M494.10,388.79H616.10M494.10,392.80H616.10M494.10,396.81H616.10M494.10,400.82H616.10M494.10,404.83H616.10M494.10,408.84H616.10M494.10,412.85H616.10M494.10,416.86H616.10M494.10,420.87H616.10M494.10,424.88H616.10M494.10,428.89H616.10M494.10,432.90H616.10M494.10,436.91H616.10M494.10,440.92H616.10M494.10,444.93H616.10M494.10,448.94H616.10M494.10,452.95H616.10M494.10,456.96H616.10M494.10,460.97H616.10M494.10,464.98H616.10M494.10,468.99H616.10M494.10,473.00H616.10M494.10,477.01H616.10M494.10,481.02H616.10M494.10,485.03H616.10M494.10,489.04H616.10M494.10,493.05H616.10M494.10,497.06H616.10" stroke="#dedede" stroke-width="0.75" fill="none"/><path d="M525.50,352.70V498.60M548.80,352.70V498.60M564.30,352.70V498.60M584.00,352.70V498.60" stroke="#d6d6d6" stroke-width="0.7" fill="none"/><path d="M494.40,352.70V498.60M615.80,352.70V498.60" stroke="#cfcfcf" stroke-width="0.6" fill="none"/><text x="509.80" y="355.50" font-size="2.2" fill="#9a9a9a" text-anchor="middle">Active</text><text x="537.15" y="355.50" font-size="2.2" fill="#9a9a9a" text-anchor="middle">25000 mi</text><text x="556.55" y="355.50" font-size="2.2" fill="#9a9a9a" text-anchor="middle">500</text><text x="574.15" y="355.50" font-size="2.2" fill="#9a9a9a" text-anchor="middle">INS-123456789</text><text x="600.05" y="355.50" font-size="2.2" fill="#9a9a9a" text-anchor="middle">Casey Brown</text><text x="509.80" y="359.51" font-size="2.2" fill="#9a9a9a" text-anchor="middle">Active</text><text x="537.15" y="359.51" font-size="2.2" fill="#9a9a9a" text-anchor="middle">30000 mi</text><text x="556.55" y="359.51" font-size="2.2" fill="#9a9a9a" text-anchor="middle">600</text><text x="574.15" y="359.51" font-size="2.2" fill="#9a9a9a" text-anchor="middle">INS-234567890</text><text x="600.05" y="359.51" font-size="2.2" fill="#9a9a9a" text-anchor="middle">Alex Johnson</text><text x="509.80" y="363.52" font-size="2.2" fill="#9a9a9a" text-anchor="middle">Active</text><text x="537.15" y="363.52" font-size="2.2" fill="#9a9a9a" text-anchor="middle">20000 mi</text><text x="556.55" y="363.52" font-size="2.2" fill="#9a9a9a" text-anchor="middle">450</text><text x="574.15" y="363.52" font-size="2.2" fill="#9a9a9a" text-anchor="middle">INS-345678901</text><text x="600.05" y="363.52" font-size="2.2" fill="#9a9a9a" text-anchor="middle">Riley Evans</text><text x="509.80" y="367.53" font-size="2.2" fill="#9a9a9a" text-anchor="middle">In Maintenance</text><text x="537.15" y="367.53" font-size="2.2" fill="#9a9a9a" text-anchor="middle">35000 mi</text><text x="556.55" y="367.53" font-size="2.2" fill="#9a9a9a" text-anchor="middle">700</text><text x="574.15" y="367.53" font-size="2.2" fill="#9a9a9a" text-anchor="middle">INS-456789012</text><text x="600.05" y="367.53" font-size="2.2" fill="#9a9a9a" text-anchor="middle">Jordan Kim</text><text x="509.80" y="371.54" font-size="2.2" fill="#9a9a9a" text-anchor="middle">Active</text><text x="537.15" y="371.54" font-size="2.2" fill="#9a9a9a" text-anchor="middle">15000 mi</text><text x="556.55" y="371.54" font-size="2.2" fill="#9a9a9a" text-anchor="middle">300</text><text x="574.15" y="371.54" font-size="2.2" fill="#9a9a9a" text-anchor="middle">INS-567890123</text><text x="600.05" y="371.54" font-size="2.2" fill="#9a9a9a" text-anchor="middle">Jamal Smith</text><text x="509.80" y="375.55" font-size="2.2" fill="#9a9a9a" text-anchor="middle">Active</text><text x="537.15" y="375.55" font-size="2.2" fill="#9a9a9a" text-anchor="middle">18000 mi</text><text x="556.55" y="375.55" font-size="2.2" fill="#9a9a9a" text-anchor="middle">350</text><text x="574.15" y="375.55" font-size="2.2" fill="#9a9a9a" text-anchor="middle">INS-678901234</text><text x="600.05" y="375.55" font-size="2.2" fill="#9a9a9a" text-anchor="middle">Sam Rivera</text><text x="509.80" y="379.56" font-size="2.2" fill="#9a9a9a" text-anchor="middle">Sold</text><text x="537.15" y="379.56" font-size="2.2" fill="#9a9a9a" text-anchor="middle">40000 mi</text><text x="556.55" y="379.56" font-size="2.2" fill="#9a9a9a" text-anchor="middle">800</text><text x="574.15" y="379.56" font-size="2.2" fill="#9a9a9a" text-anchor="middle">INS-789012345</text><text x="600.05" y="379.56" font-size="2.2" fill="#9a9a9a" text-anchor="middle">Cameron Martinez</text><text x="509.80" y="383.57" font-size="2.2" fill="#9a9a9a" text-anchor="middle">Active</text><text x="537.15" y="383.57" font-size="2.2" fill="#9a9a9a" text-anchor="middle">22000 mi</text><text x="556.55" y="383.57" font-size="2.2" fill="#9a9a9a" text-anchor="middle">400</text><text x="574.15" y="383.57" font-size="2.2" fill="#9a9a9a" text-anchor="middle">INS-890123456</text><text x="600.05" y="383.57" font-size="2.2" fill="#9a9a9a" text-anchor="middle">Avery Walker</text><text x="509.80" y="387.58" font-size="2.2" fill="#9a9a9a" text-anchor="middle">Active</text><text x="537.15" y="387.58" font-size="2.2" fill="#9a9a9a" text-anchor="middle">28000 mi</text><text x="556.55" y="387.58" font-size="2.2" fill="#9a9a9a" text-anchor="middle">550</text><text x="574.15" y="387.58" font-size="2.2" fill="#9a9a9a" text-anchor="middle">INS-901234567</text><text x="600.05" y="387.58" font-size="2.2" fill="#9a9a9a" text-anchor="middle">Quinn Robinson</text><text x="509.80" y="391.59" font-size="2.2" fill="#9a9a9a" text-anchor="middle">Active</text><text x="537.15" y="391.59" font-size="2.2" fill="#9a9a9a" text-anchor="middle">32000 mi</text><text x="556.55" y="391.59" font-size="2.2" fill="#9a9a9a" text-anchor="middle">650</text><text x="574.15" y="391.59" font-size="2.2" fill="#9a9a9a" text-anchor="middle">INS-012345678</text><text x="600.05" y="391.59" font-size="2.2" fill="#9a9a9a" text-anchor="middle">Morgan Lee</text><rect x="619.30" y="341.60" width="99.70" height="8.20" fill="#a3c5d6"/><text stroke="#56788a" stroke-width="0.12" x="669.15" y="346.20" font-size="2.5" fill="#56788a" text-anchor="middle" letter-spacing="0.75" font-weight="bold">EXPIRATION DATES</text><rect x="619.30" y="349.80" width="99.70" height="2.90" fill="#f7c9a3"/><text x="629.30" y="351.90" font-size="1.8" fill="#8a6a55" text-anchor="middle" font-weight="bold">REGISTRATION</text><rect x="637.30" y="350.50" width="1.10" height="1.50" fill="#e8b08a"/><text x="649.35" y="351.90" font-size="1.8" fill="#8a6a55" text-anchor="middle" font-weight="bold">INSURANCE</text><rect x="657.40" y="350.50" width="1.10" height="1.50" fill="#e8b08a"/><text x="669.55" y="351.90" font-size="1.8" fill="#8a6a55" text-anchor="middle" font-weight="bold">WARRANTY</text><rect x="677.70" y="350.50" width="1.10" height="1.50" fill="#e8b08a"/><text x="689.55" y="351.90" font-size="1.8" fill="#8a6a55" text-anchor="middle" font-weight="bold">CUSTOM 1</text><rect x="697.40" y="350.50" width="1.10" height="1.50" fill="#e8b08a"/><text x="709.20" y="351.90" font-size="1.8" fill="#8a6a55" text-anchor="middle" font-weight="bold">CUSTOM 2</text><rect x="717.00" y="350.50" width="1.10" height="1.50" fill="#e8b08a"/><rect x="619.30" y="352.70" width="99.70" height="145.90" fill="#f8f8f8"/><path d="M619.30,356.71H719.00M619.30,360.72H719.00M619.30,364.73H719.00M619.30,368.74H719.00M619.30,372.75H719.00M619.30,376.76H719.00M619.30,380.77H719.00M619.30,384.78H719.00M619.30,388.79H719.00M619.30,392.80H719.00M619.30,396.81H719.00M619.30,400.82H719.00M619.30,404.83H719.00M619.30,408.84H719.00M619.30,412.85H719.00M619.30,416.86H719.00M619.30,420.87H719.00M619.30,424.88H719.00M619.30,428.89H719.00M619.30,432.90H719.00M619.30,436.91H719.00M619.30,440.92H719.00M619.30,444.93H719.00M619.30,448.94H719.00M619.30,452.95H719.00M619.30,456.96H719.00M619.30,460.97H719.00M619.30,464.98H719.00M619.30,468.99H719.00M619.30,473.00H719.00M619.30,477.01H719.00M619.30,481.02H719.00M619.30,485.03H719.00M619.30,489.04H719.00M619.30,493.05H719.00M619.30,497.06H719.00" stroke="#dedede" stroke-width="0.75" fill="none"/><path d="M639.30,352.70V498.60M659.40,352.70V498.60M679.70,352.70V498.60M699.40,352.70V498.60" stroke="#d6d6d6" stroke-width="0.7" fill="none"/><path d="M619.60,352.70V498.60M718.70,352.70V498.60" stroke="#cfcfcf" stroke-width="0.6" fill="none"/><text x="629.30" y="355.50" font-size="2.2" fill="#9a9a9a" text-anchor="middle">04/15/2025</text><text x="649.35" y="355.50" font-size="2.2" fill="#9a9a9a" text-anchor="middle">10/15/2025</text><text x="669.55" y="355.50" font-size="2.2" fill="#9a9a9a" text-anchor="middle">01/15/2026</text><text x="629.30" y="359.51" font-size="2.2" fill="#9a9a9a" text-anchor="middle">01/20/2025</text><text x="649.35" y="359.51" font-size="2.2" fill="#9a9a9a" text-anchor="middle">07/20/2025</text><text x="669.55" y="359.51" font-size="2.2" fill="#9a9a9a" text-anchor="middle">04/20/2025</text><text x="629.30" y="363.52" font-size="2.2" fill="#9a9a9a" text-anchor="middle">03/10/2025</text><text x="649.35" y="363.52" font-size="2.2" fill="#9a9a9a" text-anchor="middle">09/10/2025</text><text x="669.55" y="363.52" font-size="2.2" fill="#9a9a9a" text-anchor="middle">06/10/2025</text><text x="629.30" y="367.53" font-size="2.2" fill="#9a9a9a" text-anchor="middle">06/01/2025</text><text x="649.35" y="367.53" font-size="2.2" fill="#9a9a9a" text-anchor="middle">03/01/2025</text><text x="669.55" y="367.53" font-size="2.2" fill="#9a9a9a" text-anchor="middle">09/01/2025</text><text x="629.30" y="371.54" font-size="2.2" fill="#9a9a9a" text-anchor="middle">12/15/2024</text><text x="649.35" y="371.54" font-size="2.2" fill="#9a9a9a" text-anchor="middle">06/15/2025</text><text x="669.55" y="371.54" font-size="2.2" fill="#9a9a9a" text-anchor="middle">03/15/2026</text><text x="629.30" y="375.55" font-size="2.2" fill="#9a9a9a" text-anchor="middle">11/30/2025</text><text x="649.35" y="375.55" font-size="2.2" fill="#9a9a9a" text-anchor="middle">05/30/2025</text><text x="669.55" y="375.55" font-size="2.2" fill="#9a9a9a" text-anchor="middle">02/28/2026</text><text x="629.30" y="379.56" font-size="2.2" fill="#9a9a9a" text-anchor="middle">02/14/2025</text><text x="649.35" y="379.56" font-size="2.2" fill="#9a9a9a" text-anchor="middle">08/14/2025</text><text x="669.55" y="379.56" font-size="2.2" fill="#9a9a9a" text-anchor="middle">10/14/2025</text><text x="629.30" y="383.57" font-size="2.2" fill="#9a9a9a" text-anchor="middle">08/25/2025</text><text x="649.35" y="383.57" font-size="2.2" fill="#9a9a9a" text-anchor="middle">02/25/2025</text><text x="669.55" y="383.57" font-size="2.2" fill="#9a9a9a" text-anchor="middle">12/25/2025</text><text x="629.30" y="387.58" font-size="2.2" fill="#9a9a9a" text-anchor="middle">05/05/2025</text><text x="649.35" y="387.58" font-size="2.2" fill="#9a9a9a" text-anchor="middle">11/05/2025</text><text x="669.55" y="387.58" font-size="2.2" fill="#9a9a9a" text-anchor="middle">07/05/2025</text><text x="629.30" y="391.59" font-size="2.2" fill="#9a9a9a" text-anchor="middle">09/09/2025</text><text x="649.35" y="391.59" font-size="2.2" fill="#9a9a9a" text-anchor="middle">03/09/2025</text><text x="669.55" y="391.59" font-size="2.2" fill="#9a9a9a" text-anchor="middle">04/09/2026</text></svg></div><svg style="position:absolute;left:0;top:0" width="794" height="603"><path d="M436.9,278.4 C435.4,275.1 431.6,273.1 427.4,273.1 C421.2,273.1 417,277.1 417,282.2 C417,285.6 419,288.2 421.6,291.2 L445.3,313.9 M420.3,289.6 C413.9,292.8 409.9,297.2 409.9,302.9 C409.9,309.6 415.6,314.2 422.9,314.2 C432.4,314.2 442,307.2 442,297.2" fill="none" stroke="#eca764" stroke-width="3.4" stroke-linecap="round" stroke-linejoin="round"/></svg><div style="left:0;top:574.5px;width:794px;height:29px;background:#f2d4cd"></div><div style="left:600px;top:578px;width:186.3px;text-align:right;font-size:16.5px;line-height:20px;color:#655858;white-space:nowrap;letter-spacing:-0.19px;-webkit-text-stroke:0.35px #f2d4cd">Serenata&#8217;s Team</div></div></body></html>
